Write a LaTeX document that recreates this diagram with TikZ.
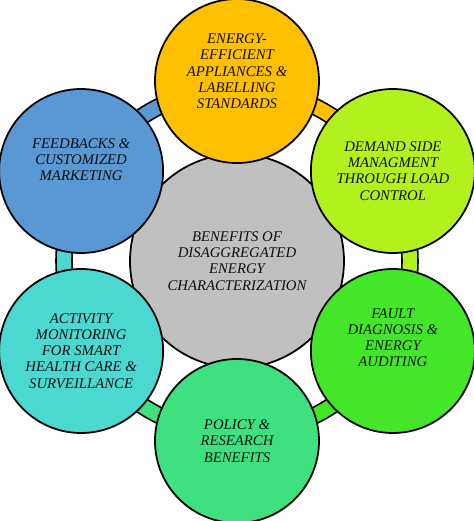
\documentclass[tikz,border=0pt]{standalone}
\usepackage{fontspec}
\setmainfont{Liberation Serif}
\definecolor{goldc}{RGB}{255,192,0}
\definecolor{limec}{RGB}{178,240,30}
\definecolor{faultc}{RGB}{68,230,42}
\definecolor{policyc}{RGB}{62,224,128}
\definecolor{tealc}{RGB}{74,216,208}
\definecolor{bluec}{RGB}{90,152,212}
\definecolor{hubc}{RGB}{192,192,192}

\begin{document}
\begin{tikzpicture}[line cap=round, font=\fontsize{8.4}{9.2}\selectfont\itshape,
    petal/.style={circle, draw=black, line width=1pt, minimum size=3.28cm,
      inner sep=0pt, align=center},
    ringseg/.style={draw=black, line width=0.9pt}]
  \useasboundingbox (-4.74,-5.20) rectangle (4.74,5.22);
  \def\R{3.6}
  \def\ri{3.30}
  \def\ro{3.62}

  % ring behind the circles, each piece in the colour of the circle it leaves
  \foreach \a/\b/\c in {90/30/goldc, 30/-30/limec, -30/-90/faultc,
                        -90/-150/policyc, 210/150/tealc, 150/90/bluec}{
    \draw[ringseg, fill=\c] (\a:\ro) arc[start angle=\a, end angle=\b, radius=\ro]
      -- (\b:\ri) arc[start angle=\b, end angle=\a, radius=\ri] -- cycle;
  }

  % centre
  \node[petal, fill=hubc, text=hubc!8!black, minimum size=4.28cm] (hub) at (0,0)
    {BENEFITS OF\\DISAGGREGATED\\ENERGY\\CHARACTERIZATION};

  % outer circles, clockwise from the top
  \node[petal, fill=goldc, text=goldc!8!black] (appliances) at (90:\R)
    {ENERGY-\\EFFICIENT\\APPLIANCES \&\\LABELLING\\STANDARDS\\[2pt]};
  \node[petal, fill=limec, text=limec!8!black] (demand) at (30:\R)
    {DEMAND SIDE\\MANAGMENT\\THROUGH LOAD\\CONTROL};
  \node[petal, fill=faultc, text=faultc!8!black] (fault) at (-30:\R)
    {FAULT\\DIAGNOSIS \&\\ENERGY\\AUDITING\\[6pt]};
  \node[petal, fill=policyc, text=policyc!8!black] (policy) at (-90:\R)
    {POLICY \&\\RESEARCH\\BENEFITS};
  \node[petal, fill=tealc, text=tealc!8!black] (activity) at (210:\R)
    {ACTIVITY\\MONITORING\\FOR SMART\\HEALTH CARE \&\\SURVEILLANCE};
  \node[petal, fill=bluec, text=bluec!8!black] (feedback) at (150:\R)
    {FEEDBACKS \&\\CUSTOMIZED\\MARKETING\\[4pt]};
\end{tikzpicture}
\end{document}
